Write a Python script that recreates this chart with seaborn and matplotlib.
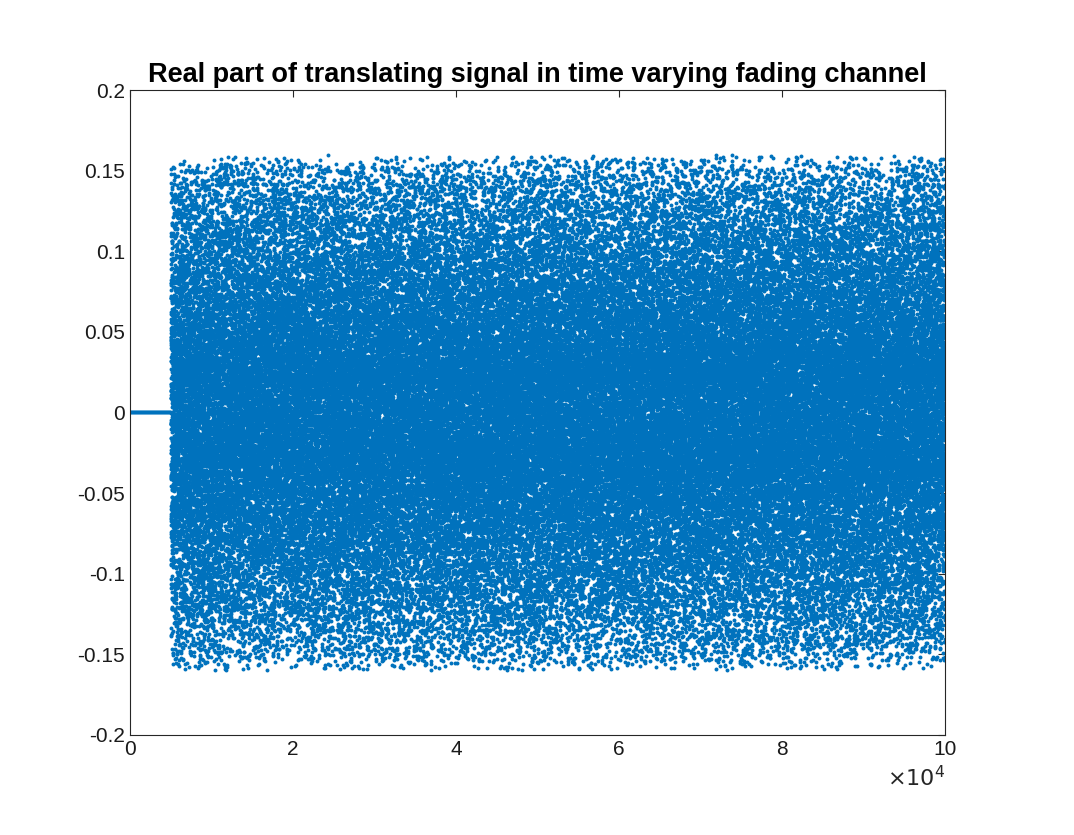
import numpy as np
import pandas as pd
import matplotlib.pyplot as plt
import seaborn as sns

# values
n_total = 100000
signal_start = 5000        # signal is zero before this sample
amp_low = 0.02             # fading envelope range of the real part
amp_high = 0.16
title = 'Real part of translating signal in time varying fading channel'
y_ticks = [-0.2, -0.15, -0.1, -0.05, 0, 0.05, 0.1, 0.15, 0.2]
y_tick_labels = ['-0.2', '-0.15', '-0.1', '-0.05', '0', '0.05', '0.1', '0.15', '0.2']
x_ticks = [0, 20000, 40000, 60000, 80000, 100000]
x_tick_labels = ['0', '2', '4', '6', '8', '10']

# the noise-like samples cannot be read one by one; a fixed seed stands in for them
rng = np.random.default_rng(1)
n_sig = n_total - signal_start
amp = rng.uniform(amp_low, amp_high, n_sig)
phase = rng.uniform(0, 2 * np.pi, n_sig)
vals = np.concatenate([np.zeros(signal_start), amp * np.cos(phase)])
df = pd.DataFrame({'n': np.arange(1, n_total + 1), 'y': vals})

sns.set_style('white')
plt.rcParams['font.family'] = ['Liberation Sans', 'DejaVu Sans']
color = '#0072BD'

fig = plt.figure(figsize=(10.74, 8.35), dpi=100)
ax = fig.add_axes([0.121, 0.12, 0.759, 0.772])
sns.lineplot(data=df.iloc[:signal_start], x='n', y='y', color=color, lw=3, ax=ax)
sns.scatterplot(data=df.iloc[signal_start:], x='n', y='y', color=color, s=8,
                linewidth=0, ax=ax, rasterized=True)

ax.set_xlim(0, n_total)
ax.set_ylim(-0.2, 0.2)
ax.set_yticks(y_ticks)
ax.set_yticklabels(y_tick_labels)
ax.set_xticks(x_ticks)
ax.set_xticklabels(x_tick_labels)
ax.tick_params(direction='in', labelsize=15, colors='#262626', labelcolor='#1a1a1a',
               length=5, top=True, right=True)
ax.set_xlabel('')
ax.set_ylabel('')
for s in ax.spines.values():
    s.set_color('#262626')
    s.set_linewidth(0.8)
ax.set_title(title, fontsize=19.5, fontweight='bold', pad=6, color='black')
ax.text(1.0, -0.068, r'$\times10^4$', transform=ax.transAxes, ha='right', va='center',
        fontsize=16, color='#262626')

fig.savefig('out.png', dpi=100)
